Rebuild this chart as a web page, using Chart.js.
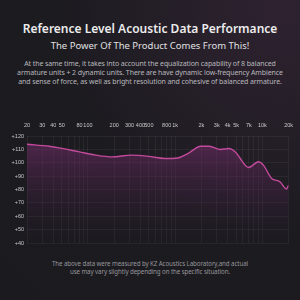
<!DOCTYPE html>
<html>
<head>
<meta charset="utf-8">
<script src="https://cdn.jsdelivr.net/npm/chart.js@4"></script>
<style>
    html, body { margin: 0; padding: 0; }
    body {
        width: 300px; height: 300px; overflow: hidden; position: relative;
        background: radial-gradient(circle at 280px 10px, #2e2230 0%, #1c1b20 55%, #1b1a1f 100%);
        font-family: "Noto Sans", sans-serif;
        text-align: center;
    }
    .title { position: absolute; left: 0; width: 300px; top: 20px; font-size: 12px; font-weight: 600; color: #ececec; }
    .sub { position: absolute; left: 0; width: 300px; top: 39px; font-size: 9.5px; color: #e0e0e0; }
    .desc { position: absolute; left: 0; width: 300px; top: 60px; font-size: 7px; line-height: 8.8px; color: #b8b8bc; letter-spacing: -0.1px; }
    .note { position: absolute; left: 0; width: 300px; top: 260px; font-size: 6.2px; line-height: 8.3px; color: #96969a; letter-spacing: -0.1px; }
    .wrap { position: absolute; left: 0; top: 110px; width: 300px; height: 140px; }
</style>
</head>
<body>
<div class="title">Reference Level Acoustic Data Performance</div>
<div class="sub">The Power Of The Product Comes From This!</div>
<div class="desc">At the same time, it takes into account the equalization capability of 8 balanced<br>armature units + 2 dynamic units. There are have dynamic low-frequency Ambience<br>and sense of force, as well as bright resolution and cohesive of balanced armature.</div>
<div class="wrap"><canvas id="fr"></canvas></div>
<div class="note">The above data were measured by KZ Acoustics Laboratory,and actual<br>use may vary slightly depending on the specific situation.</div>
<script>
const freqs = [20, 36, 47, 80, 123, 188, 316, 492, 760, 1076, 1400, 1970, 2460, 3320, 4140, 4900, 6960, 9040, 10280, 12770, 15900, 18900, 20000];
const levels = [113.8, 112.3, 111.1, 108.1, 105.7, 104.4, 105.7, 104.8, 103.2, 103.6, 106.9, 112.3, 112.3, 109.9, 110.6, 108.1, 96.5, 100.7, 98.2, 88.3, 85.8, 80.4, 83.1];

const freqLabels = [20, 30, 40, 50, 80, 100, 200, 300, 400, 500, 800, 1000, 2000, 3000, 4000, 5000, 7000, 10000, 20000];
const gridFreqs = [20, 30, 40, 50, 60, 70, 80, 90, 100, 200, 300, 400, 500, 600, 700, 800, 900,
    1000, 2000, 3000, 4000, 5000, 6000, 7000, 8000, 9000, 10000, 20000];

function freqText(v) {
    if (!freqLabels.includes(v)) return "";
    return v >= 1000 ? (v / 1000) + "k" : String(v);
}

new Chart(document.getElementById("fr"), {
    type: "line",
    data: {
        datasets: [{
            data: freqs.map((f, i) => ({ x: f, y: levels[i] })),
            borderColor: "#c44a9c",
            borderWidth: 1.4,
            pointRadius: 0,
            cubicInterpolationMode: "monotone",
            fill: "start",
            backgroundColor: ctx => {
                const area = ctx.chart.chartArea;
                if (!area) return "rgba(90,40,85,0.4)";
                const g = ctx.chart.ctx.createLinearGradient(0, area.top, 0, area.bottom);
                g.addColorStop(0, "rgba(115,45,105,0.65)");
                g.addColorStop(0.6, "rgba(70,35,70,0.3)");
                g.addColorStop(1, "rgba(40,30,45,0.05)");
                return g;
            }
        }]
    },
    options: {
        responsive: true,
        maintainAspectRatio: false,
        animation: false,
        layout: { padding: { left: 0, right: 7, top: 0, bottom: 7 } },
        plugins: { legend: { display: false }, tooltip: { enabled: false } },
        scales: {
            x: {
                type: "logarithmic",
                position: "top",
                min: 20,
                max: 20000,
                afterBuildTicks: scale => { scale.ticks = gridFreqs.map(v => ({ value: v })); },
                afterFit: scale => { scale.height = 26; },
                ticks: {
                    autoSkip: false,
                    maxRotation: 0,
                    color: "#c8c8c8",
                    font: { size: 5.5 },
                    padding: 7,
                    callback: value => freqText(value)
                },
                grid: { color: "rgba(255,255,255,0.05)", drawTicks: false },
                border: { display: false }
            },
            y: {
                min: 40,
                max: 120,
                afterFit: scale => { scale.width = 27; },
                ticks: {
                    stepSize: 10,
                    color: "#c8c8c8",
                    font: { size: 5.5 },
                    padding: 3,
                    callback: value => "+" + value
                },
                grid: { color: "rgba(255,255,255,0.05)", drawTicks: false },
                border: { display: false }
            }
        }
    }
});
</script>
</body>
</html>
